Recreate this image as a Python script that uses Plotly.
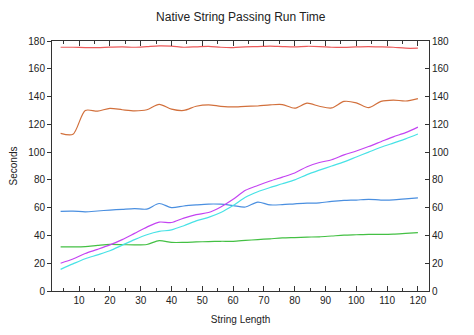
import plotly.graph_objects as go

# String lengths sampled for each run
string_length = list(range(4, 121, 4))

# Run time in seconds for each method
series_red = [175.5, 175.5, 175.3, 175.3, 175.6, 175.8, 175.5, 176.0, 176.5, 176.3,
              175.5, 175.8, 176.2, 175.5, 175.3, 175.8, 176.0, 176.3, 176.0, 175.8,
              176.2, 176.0, 175.5, 175.4, 175.8, 176.0, 175.8, 175.5, 174.8, 174.8]
series_orange = [113.5, 112.8, 130.0, 129.5, 131.5, 130.5, 129.7, 130.5, 134.4, 131.0,
                 130.0, 133.0, 134.0, 133.0, 132.5, 133.0, 133.2, 134.0, 134.2, 131.6,
                 135.2, 133.0, 131.8, 136.5, 135.5, 132.0, 136.5, 137.5, 136.8, 138.5]
series_blue = [57.4, 57.5, 57.0, 57.6, 58.3, 58.8, 59.3, 59.0, 63.0, 60.0,
               61.2, 62.0, 62.6, 62.5, 61.5, 60.5, 64.0, 62.0, 62.2, 62.8,
               63.2, 63.5, 64.5, 65.2, 65.5, 66.0, 65.5, 65.6, 66.3, 67.0]
series_green = [31.8, 31.8, 32.0, 32.8, 33.5, 33.4, 33.2, 33.5, 36.3, 35.0,
                35.0, 35.3, 35.6, 35.8, 35.8, 36.4, 37.0, 37.6, 38.2, 38.5,
                38.8, 39.0, 39.6, 40.2, 40.5, 40.8, 40.8, 41.0, 41.5, 42.0]
series_magenta = [20.0, 23.0, 27.0, 30.0, 33.2, 37.0, 41.5, 46.0, 49.6, 49.3,
                  52.5, 55.0, 56.5, 60.5, 66.0, 72.5, 76.0, 79.2, 82.0, 85.0,
                  89.5, 92.5, 94.5, 98.0, 100.8, 104.0, 107.5, 111.0, 114.0, 118.0]
series_cyan = [15.6, 19.5, 23.2, 26.0, 29.0, 33.0, 37.0, 40.5, 42.9, 44.0,
               47.0, 50.5, 53.0, 56.5, 61.5, 67.5, 71.5, 74.5, 77.2, 80.0,
               83.8, 87.0, 90.0, 93.0, 96.5, 100.0, 103.5, 106.5, 109.5, 113.0]

x_ticks = [10, 20, 30, 40, 50, 60, 70, 80, 90, 100, 110, 120]
y_ticks = [0, 20, 40, 60, 80, 100, 120, 140, 160, 180]

series = [
    (series_red, "#ec5a5a"),
    (series_orange, "#d2703c"),
    (series_blue, "#4a8fe0"),
    (series_green, "#44c044"),
    (series_magenta, "#c444f2"),
    (series_cyan, "#48e2e6"),
]

fig = go.Figure()
for values, color in series:
    fig.add_trace(go.Scatter(
        x=string_length, y=values, mode="lines",
        line=dict(color=color, width=1.2, shape="spline", smoothing=0.8),
        showlegend=False, hoverinfo="skip",
    ))

# invisible trace so the right-hand axis is drawn
fig.add_trace(go.Scatter(x=[string_length[0]], y=[0], yaxis="y2", mode="markers",
                         marker=dict(opacity=0), showlegend=False, hoverinfo="skip"))

font_family = "Liberation Sans, Arial, sans-serif"
axis_color = "#333333"

fig.update_layout(
    width=474, height=335,
    margin=dict(l=52, r=45, t=41, b=41),
    paper_bgcolor="white", plot_bgcolor="white",
    font=dict(family=font_family, size=10, color="#222222"),
    title=dict(text="Native String Passing Run Time", x=0.508, xanchor="center",
               y=0.95, yanchor="middle", font=dict(size=12, color="#222222")),
    xaxis=dict(
        range=[1.2, 123.6], tickvals=x_ticks, ticks="inside", ticklen=5,
        tickcolor=axis_color, showline=True, linecolor=axis_color, linewidth=1,
        mirror="ticks", showgrid=False, zeroline=False,
        minor=dict(dtick=5, tick0=0, ticks="inside", ticklen=3, tickcolor=axis_color, showgrid=False),
        title=dict(text="String Length", standoff=10, font=dict(size=10)),
        tickfont=dict(size=10),
    ),
    yaxis=dict(
        range=[0, 180], tickvals=y_ticks, ticks="outside", ticklen=4,
        tickcolor=axis_color, showline=True, linecolor=axis_color, linewidth=1,
        showgrid=False, zeroline=False,
        title=dict(text="Seconds", standoff=8, font=dict(size=10)),
        tickfont=dict(size=10),
    ),
    yaxis2=dict(
        range=[0, 180], tickvals=y_ticks, overlaying="y", side="right",
        ticks="inside", ticklen=4, tickcolor=axis_color, showline=True,
        linecolor=axis_color, linewidth=1, showgrid=False, zeroline=False,
        tickfont=dict(size=10),
    ),
)

fig.write_html("out.html")
